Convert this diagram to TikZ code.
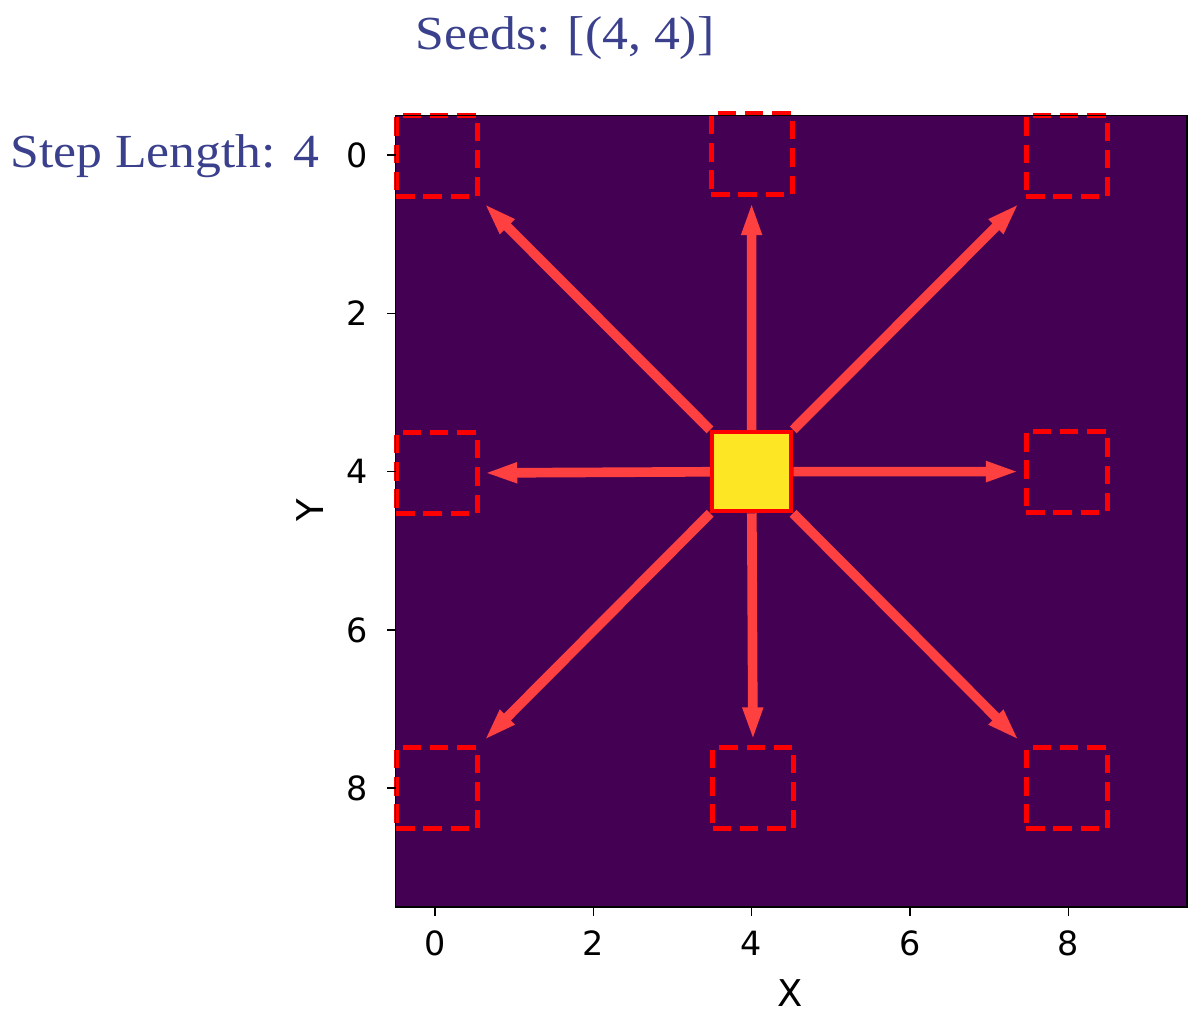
\documentclass[tikz,border=0pt]{standalone}
\usepackage{fontspec}
\setmainfont{Liberation Serif}
\newfontfamily\axisfont{DejaVu Sans}
\usetikzlibrary{arrows.meta, positioning, calc, backgrounds}
\definecolor{gridbg}{RGB}{68,1,84}
\definecolor{seedfill}{RGB}{253,231,37}
\definecolor{arrowcol}{RGB}{255,64,64}
\definecolor{titlecol}{RGB}{58,64,140}

\begin{document}
\begin{tikzpicture}[
    x = 1.583cm, y = -1.583cm,
    seedbox/.style  = {rectangle, fill=seedfill, draw=red, line width=2.4pt,
                       minimum size=1.583cm, inner sep=0pt},
    nbrbox/.style   = {rectangle, draw=red, line width=2.8pt,
                       dash pattern=on 10.5pt off 5pt,
                       minimum size=1.62cm, inner sep=0pt},
    arrow/.style    = {-{Triangle[length=19pt,width=10.5pt]}, line width=5.5pt,
                       color=arrowcol},
    axtick/.style   = {line width=0.8pt},
    ticklab/.style  = {font=\axisfont\fontsize{19}{19}\selectfont, inner sep=0pt},
    axlab/.style    = {font=\axisfont\fontsize{21}{21}\selectfont, inner sep=0pt},
    title/.style    = {font=\fontsize{27}{27}\selectfont, text=titlecol,
                       inner sep=0pt, xscale=1.09, transform shape},
]
\useasboundingbox (-5.496,-1.958) rectangle (9.665,10.966);

% ── Seed cell and its neighbours ────────────────────────────────
\node[seedbox] (seed) at (4,4) {};

\node[nbrbox] (n00) at (0.02,0.01) {};
\node[nbrbox] (n40) at (4,-0.01) {};
\node[nbrbox] (n80) at (7.98,0.01) {};
\node[nbrbox] (n04) at (0.02,4.02) {};
\node[nbrbox] (n84) at (7.98,4) {};
\node[nbrbox] (n08) at (0.02,8) {};
\node[nbrbox] (n48) at (4.02,8) {};
\node[nbrbox] (n88) at (7.98,8) {};

% ── Grid background and step arrows ─────────────────────────────
\begin{scope}[on background layer]
  \fill[gridbg] (-0.5,-0.5) rectangle (9.5,9.5);
  \foreach \t in {n00,n40,n80,n04,n84,n08,n48,n88}
    \draw[arrow] (seed) -- ($(seed)!0.85!(\t)$);
\end{scope}

% ── Axes ────────────────────────────────────────────────────────
\draw[axtick] (-0.5,-0.5) rectangle (9.5,9.5);
\foreach \v in {0,2,...,8} {
  \draw[axtick] (-0.5,\v) -- ++(-0.11,0);
  \node[ticklab, anchor=east] at (-0.846,\v) {\v};
  \draw[axtick] (\v,9.5) -- ++(0,0.11);
  \node[ticklab] at (\v,9.96) {\v};
}
\node[axlab] (xlab) at (4.485,10.59) {X};
\node[axlab, rotate=90] (ylab) at (-1.58,4.485) {Y};

% ── Titles ──────────────────────────────────────────────────────
\node[title, anchor=base west] (seeds) at (-0.25,-1.327) {Seeds: [(4, 4)]};
\node[title, anchor=base west] (steplen) at (-5.37,0.164) {Step Length: 4};

\end{tikzpicture}
\end{document}
